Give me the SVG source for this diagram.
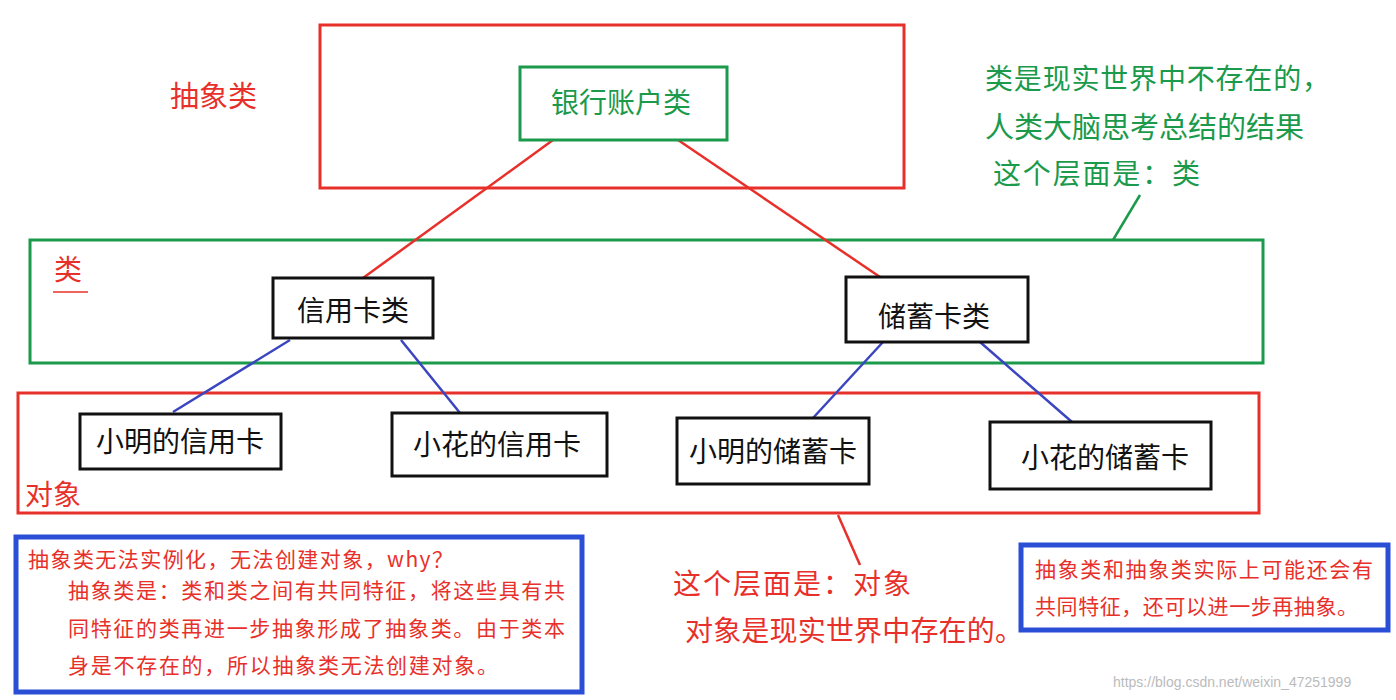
<svg xmlns="http://www.w3.org/2000/svg" width="1396" height="700" viewBox="0 0 1396 700">
<style>
text{font-family:"Noto Sans CJK SC","Noto Sans",sans-serif}
.r{fill:#e8302a}.g{fill:#1a9a4a}.k{fill:#111}
.box{fill:#fff;stroke:#111;stroke-width:3}
</style>
<rect width="1396" height="700" fill="#fff"/>
<g id="regions" fill="none" stroke-width="3">
<rect x="320" y="25" width="584" height="163" stroke="#e8302a"/>
<rect x="30" y="240" width="1233" height="123" stroke="#1a9a4a"/>
<rect x="18" y="393" width="1241" height="120" stroke="#e8302a"/>
<rect x="16" y="537" width="566" height="155" stroke="#2a4fd6" stroke-width="5"/>
<rect x="1021" y="545" width="367" height="85" stroke="#2a4fd6" stroke-width="5"/>
</g>
<g id="connectors" stroke-width="2.5">
<line x1="553" y1="140" x2="363" y2="278" stroke="#e8302a"/>
<line x1="678" y1="140" x2="880" y2="277" stroke="#e8302a"/>
<line x1="290" y1="340" x2="173" y2="412" stroke="#3b45c0"/>
<line x1="401" y1="340" x2="460" y2="413" stroke="#3b45c0"/>
<line x1="883" y1="342" x2="813" y2="418" stroke="#3b45c0"/>
<line x1="980" y1="342" x2="1072" y2="422" stroke="#3b45c0"/>
<line x1="1140" y1="195" x2="1113" y2="240" stroke="#1a9a4a"/>
<line x1="838" y1="515" x2="860" y2="565" stroke="#e8302a"/>
<line x1="53" y1="292" x2="88" y2="292" stroke="#e8302a" stroke-width="1.5"/>
</g>
<g id="bank"><rect x="520" y="67" width="207" height="73" fill="#fff" stroke="#1a9a4a" stroke-width="3"/><text x="621" y="113" font-size="28" text-anchor="middle" class="g">银行账户类</text></g>
<g id="credit"><rect class="box" x="273" y="278" width="160" height="60"/><text x="353" y="321" font-size="28" text-anchor="middle" class="k">信用卡类</text></g>
<g id="savings"><rect class="box" x="846" y="277" width="182" height="65"/><text x="934" y="327" font-size="28" text-anchor="middle" class="k">储蓄卡类</text></g>
<g id="o1"><rect class="box" x="80" y="414" width="201" height="55"/><text x="180" y="452" font-size="28" text-anchor="middle" class="k">小明的信用卡</text></g>
<g id="o2"><rect class="box" x="392" y="413" width="215" height="63"/><text x="497" y="455" font-size="28" text-anchor="middle" class="k">小花的信用卡</text></g>
<g id="o3"><rect class="box" x="677" y="418" width="192" height="66"/><text x="773" y="462" font-size="28" text-anchor="middle" class="k">小明的储蓄卡</text></g>
<g id="o4"><rect class="box" x="990" y="422" width="221" height="67"/><text x="1105" y="468" font-size="28" text-anchor="middle" class="k">小花的储蓄卡</text></g>
<g id="labels" font-size="28">
<text x="170" y="107" class="r" font-size="29">抽象类</text>
<text x="54" y="280" class="r">类</text>
<text x="25" y="505" class="r">对象</text>
<text x="985" y="89" class="g" textLength="345">类是现实世界中不存在的，</text>
<text x="985" y="138" class="g" font-size="29">人类大脑思考总结的结果</text>
<text x="993" y="184" class="g" textLength="207">这个层面是：类</text>
<text x="673" y="594" class="r" textLength="238">这个层面是：对象</text>
<text x="685" y="641" class="r" textLength="338">对象是现实世界中存在的。</text>
</g>
<g id="notes" font-size="21" class="r">
<text x="28" y="567" textLength="425">抽象类无法实例化，无法创建对象，why？</text>
<text x="68" y="598" textLength="497">抽象类是：类和类之间有共同特征，将这些具有共</text>
<text x="68" y="636" textLength="497">同特征的类再进一步抽象形成了抽象类。由于类本</text>
<text x="68" y="673" textLength="430">身是不存在的，所以抽象类无法创建对象。</text>
<text x="1035" y="577" textLength="338">抽象类和抽象类实际上可能还会有</text>
<text x="1035" y="614" textLength="323">共同特征，还可以进一步再抽象。</text>
</g>
<text x="1113" y="687" font-size="14" fill="#bbb" style="font-family:'Liberation Sans',sans-serif">https://blog.csdn.net/weixin_47251999</text>
</svg>
